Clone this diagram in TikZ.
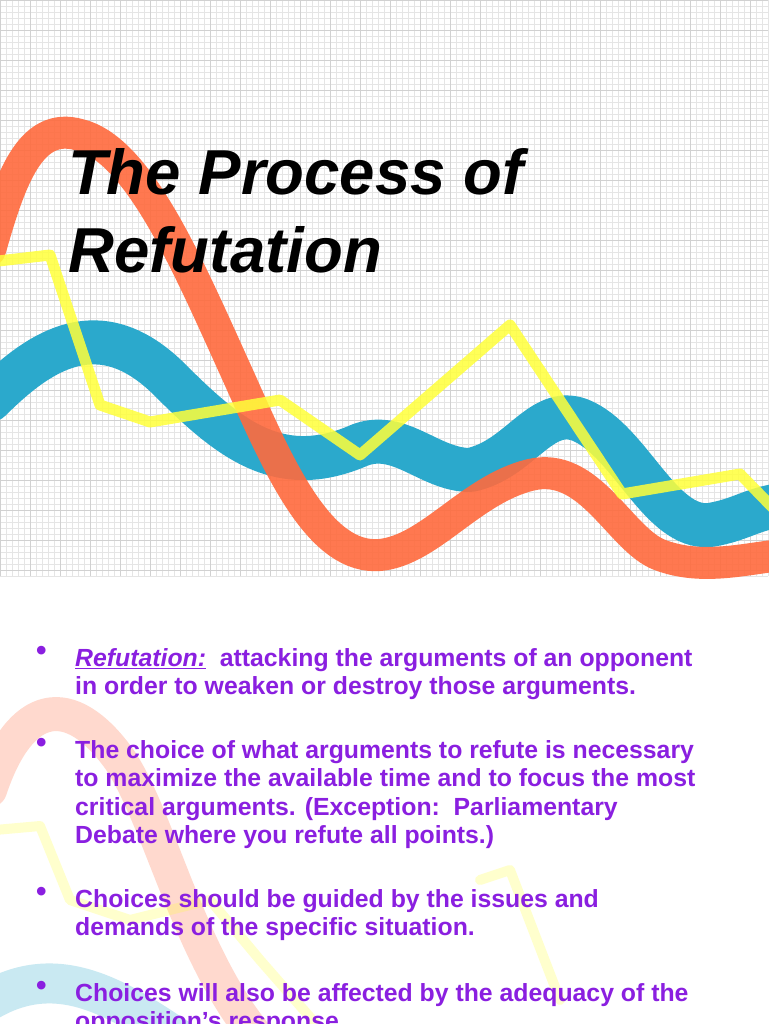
\documentclass[tikz,border=0pt]{standalone}
\usepackage{fontspec}
\setmainfont{Liberation Sans}
\usetikzlibrary{positioning}
\definecolor{bandorange}{HTML}{FF6A3D}
\definecolor{bandblue}{HTML}{2BA9CC}
\definecolor{bandyellow}{HTML}{FFFF3A}
\definecolor{bulletviolet}{HTML}{8A1FE0}
\begin{document}
\begin{tikzpicture}[x=1pt,y=-1pt,
  band/.style={line cap=round, line join=round},
  title/.style={anchor=west, inner sep=0pt, font=\fontsize{63.5}{70}\selectfont\bfseries\itshape},
  point/.style={align=left, font=\fontsize{24.8}{28.5}\selectfont\bfseries, text=bulletviolet, inner sep=0pt, anchor=north west},
  dot/.style={text=bulletviolet, font=\fontsize{30}{28.5}\selectfont\bfseries, inner sep=0pt, anchor=north west}
]
  \useasboundingbox (0,0) rectangle (768,1024);
  \fill[white] (0,0) rectangle (768,1024);
  % grid
  \draw[black!10, line width=0.4pt, step=6pt] (0,0) grid (768,576);
  \draw[black!18, line width=0.5pt, step=30pt] (0,0) grid (768,576);

  % faded bands
  \begin{scope}[opacity=0.25]
    \draw[band, bandorange, line width=34pt] (-10,790) .. controls (20,700) and (70,690) .. (120,760) .. controls (160,820) and (190,960) .. (260,1040);
    \draw[band, bandyellow, line width=10pt] (-5,830) -- (40,826) -- (70,900) -- (130,920) -- (210,900) -- (260,960) -- (330,1040);
    \draw[band, bandyellow, line width=10pt] (480,880) -- (510,870) -- (560,1000);
    \draw[band, bandblue, line width=40pt] (-10,1000) .. controls (60,960) and (120,1000) .. (180,1040);
  \end{scope}

  % bands
  \draw[band, bandblue, line width=44pt] (-10,400) .. controls (40,350) and (100,310) .. (170,380) .. controls (230,440) and (280,480) .. (360,445) .. controls (400,430) and (430,470) .. (470,470) .. controls (520,460) and (540,405) .. (580,420) .. controls (630,440) and (660,530) .. (710,525) .. controls (740,520) and (750,510) .. (780,505);
  \begin{scope}[opacity=0.9]
  \draw[band, bandorange, line width=32pt] (-10,250) .. controls (10,180) and (30,120) .. (80,135) .. controls (140,150) and (190,270) .. (240,380) .. controls (280,470) and (320,560) .. (380,555) .. controls (430,550) and (470,490) .. (530,475) .. controls (590,460) and (620,540) .. (660,555) .. controls (700,570) and (740,560) .. (780,555);
  \end{scope}
  \draw[band, bandyellow, line width=11pt, opacity=0.85] (-10,262) -- (50,255) -- (100,405) -- (150,422) -- (280,400) -- (360,455) -- (510,325) -- (622,494) -- (740,474) -- (775,510);

  % title
  \node[title] (title1) at (68,172) {The Process of};
  \node[title] (title2) at (68,250) {Refutation};

  % bullets
  \node[dot] (b1) at (36,646) {•};
  \node[point] (p1) at (75,648) {\underline{\itshape Refutation:}\ \ attacking the arguments of an opponent\\in order to weaken or destroy those arguments.};
  \node[dot] (b2) at (36,738) {•};
  \node[point] (p2) at (75,740) {The choice of what arguments to refute is necessary\\to maximize the available time and to focus the most\\critical arguments. (Exception:\ \ Parliamentary\\Debate where you refute all points.)};
  \node[dot] (b3) at (36,887) {•};
  \node[point] (p3) at (75,889) {Choices should be guided by the issues and\\demands of the specific situation.};
  \node[dot] (b4) at (36,981) {•};
  \node[point] (p4) at (75,983) {Choices will also be affected by the adequacy of the\\opposition’s response.};
\end{tikzpicture}
\end{document}
